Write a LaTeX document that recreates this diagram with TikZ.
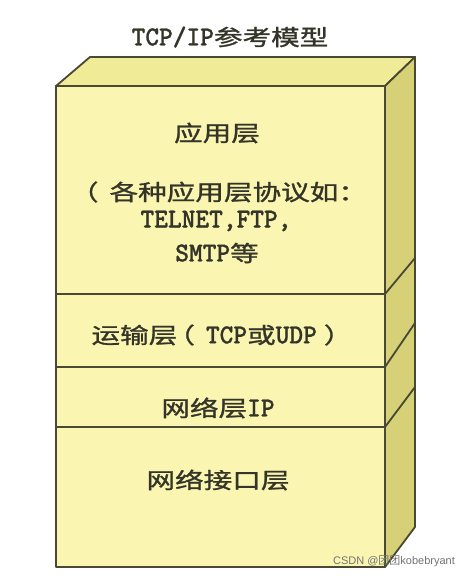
\documentclass[tikz,border=0pt]{standalone}
\usepackage{fontspec}
\newfontfamily\cjk[FakeStretch=1.3,FakeBold=1.2]{Noto Sans CJK SC}
\newfontfamily\lat[FakeStretch=0.95,FakeBold=0.8]{lmmonolt10-bold.otf}
\newfontfamily\wm{Liberation Sans}
\newfontfamily\wmcjk{Noto Sans CJK SC}
\definecolor{frontc}{RGB}{250,246,178}
\definecolor{topc}{RGB}{240,235,150}
\definecolor{sidec}{RGB}{214,208,118}
\definecolor{edgec}{RGB}{72,72,52}
\definecolor{txtc}{RGB}{52,52,40}
\tikzset{
  face/.style={draw=edgec,line width=1.8pt,line join=round},
  lbl/.style={text=txtc,inner sep=0pt,font=\fontsize{22}{26}\selectfont},
}
\newcommand{\mylat}[1]{{\fontsize{27.5}{30}\lat #1}}
\newcommand{\mycjk}[1]{{\cjk #1}}
\newcommand{\lbr}{{\cjk\kern-11pt（\kern11pt}}
\begin{document}
\begin{tikzpicture}[x=1pt,y=-1pt]
\useasboundingbox[fill=white] (0,0) rectangle (468,576);
% top face
\draw[face,fill=topc] (56,86) -- (90,57) -- (415,57) -- (385,86) -- cycle;
% side face
\draw[face,fill=sidec] (385,86) -- (415,57) -- (415,527) -- (385,567) -- cycle;
% side divider lines
\draw[face] (385,294) -- (415,258);
\draw[face] (385,367) -- (415,323);
\draw[face] (385,427) -- (415,387);
% front layers
\draw[face,fill=frontc] (56,86) rectangle (385,294);
\draw[face,fill=frontc] (56,294) rectangle (385,367);
\draw[face,fill=frontc] (56,367) rectangle (385,427);
\draw[face,fill=frontc] (56,427) rectangle (385,567);
% texts
\node[lbl] (title) at (230,37) {\mylat{TCP/IP}\mycjk{参考模型}};
\node[lbl] (app) at (217,133) {\mycjk{应用层}};
\node[lbl] (appa) at (224,192) {\lbr\mycjk{各种应用层协议如：}};
\node[lbl] (appb) at (216,221) {\mylat{TELNET,FTP,}};
\node[lbl] (appc) at (217,253) {\mylat{SMTP}\mycjk{等}};
\node[lbl] (trans) at (222,335) {\mycjk{运输层}\lbr\mylat{TCP}\mycjk{或}\mylat{UDP}\hspace{7pt}\mycjk{）}};
\node[lbl] (net) at (218,408) {\mycjk{网络层}\mylat{IP}};
\node[lbl] (link) at (218,480) {\mycjk{网络接口层}};
\node[text=black!55,inner sep=0pt,font=\fontsize{11}{13}\selectfont] (wmark) at (394,561) {\wm CSDN @{\wmcjk 团团}kobebryant};
\end{tikzpicture}
\end{document}
